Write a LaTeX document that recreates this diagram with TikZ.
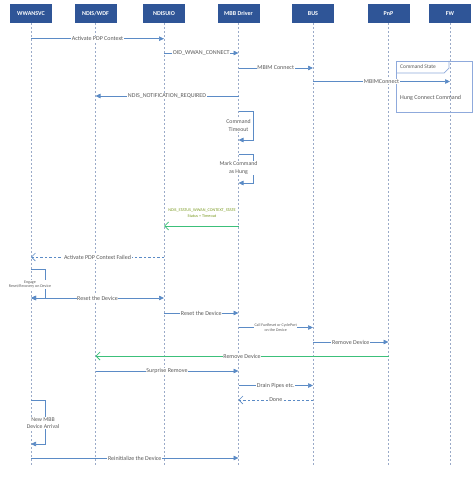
\documentclass[tikz,border=0pt]{standalone}
\usepackage{fontspec}
\setmainfont{Carlito}
\usetikzlibrary{arrows.meta}
\definecolor{hdr}{HTML}{2F5597}
\definecolor{msg}{HTML}{5B8BC6}
\definecolor{life}{HTML}{9AAAC8}
\definecolor{grn}{HTML}{3CC07A}
\definecolor{grntext}{HTML}{7A9A20}
\definecolor{lbl}{HTML}{595959}
\definecolor{frame}{HTML}{8FAADC}
\tikzset{
 hdrbox/.style={fill=hdr, draw=none, minimum width=42pt, minimum height=19pt, inner sep=0pt, text=white, font=\fontsize{6}{7}\selectfont\bfseries},
 lifeline/.style={draw=life, line width=0.5pt, dash pattern=on 2pt off 2pt},
 msgline/.style={draw=msg, line width=0.7pt, -{Triangle[length=5pt,width=4.5pt]}},
 dblline/.style={draw=msg, line width=0.7pt, {Triangle[length=5pt,width=4.5pt]}-{Triangle[length=5pt,width=4.5pt]}},
 retline/.style={draw=msg, line width=0.6pt, dash pattern=on 2.5pt off 2pt, -{Straight Barb[length=4pt,width=8pt]}},
 grnline/.style={draw=grn, line width=0.8pt, -{Straight Barb[length=4pt,width=8pt]}},
 lab/.style={fill=white, inner sep=0.6pt, text=lbl, font=\fontsize{6}{7}\selectfont},
 tinylab/.style={fill=white, inner sep=0.5pt, text=lbl, align=center, font=\fontsize{4}{4.8}\selectfont},
 selflab/.style={fill=white, inner sep=0.5pt, text=lbl, align=center, font=\fontsize{5.8}{7.2}\selectfont},
}
\begin{document}
\begin{tikzpicture}[x=1pt,y=-1pt]
\useasboundingbox[fill=white] (0,0) rectangle (474,484);

% headers
\node[hdrbox] (hW) at (31,13.5) {WWANSVC};
\node[hdrbox] (hN) at (95.5,13.5) {NDIS/WDF};
\node[hdrbox] (hU) at (164,13.5) {NDISUIO};
\node[hdrbox] (hM) at (238.5,13.5) {MBB Driver};
\node[hdrbox] (hB) at (313,13.5) {BUS};
\node[hdrbox] (hP) at (388.5,13.5) {PnP};
\node[hdrbox] (hF) at (450,13.5) {FW};

% lifelines
\foreach \n in {W,N,U,M,B,P,F} {
  \coordinate (e\n) at (h\n |- 0,465);
  \draw[lifeline] (h\n.south) -- (e\n);
}

% command state frame
\draw[frame, line width=0.7pt] (396,61) rectangle (472,112);
\draw[frame, line width=0.7pt] (396,73) -- (444,73) -- (449,68) -- (449,61);
\node[anchor=west, text=lbl, font=\fontsize{5.5}{6}\selectfont, inner sep=0pt] (cs) at (400,67) {Command State};
\node[anchor=west, text=lbl, font=\fontsize{6}{7}\selectfont, inner sep=0pt] (hc) at (400,98) {Hung Connect Command};

% messages
\draw[msgline] (hW |- 0,38.7) -- node[lab]{Activate PDP Context} (hU |- 0,38.7);
\draw[msgline] (hU |- 0,53) -- node[lab]{OID\_WWAN\_CONNECT} (hM |- 0,53);
\draw[msgline] (hM |- 0,68) -- node[lab]{MBIM Connect} (hB |- 0,68);
\draw[msgline] (hB |- 0,81.5) -- node[lab]{MBIMConnect} (hF |- 0,81.5);
\draw[msgline] (hM |- 0,96) -- node[lab]{NDIS\_NOTIFICATION\_REQUIRED} (hN |- 0,96);

% self loops on MBB
\draw[msgline] (hM |- 0,111) -- (253,111) -- (253,140) -- (hM |- 0,140);
\node[selflab] (ct) at (238.5,125.5) {Command\\Timeout};
\draw[msgline] (hM |- 0,154) -- (253,154) -- (253,183) -- (hM |- 0,183);
\node[selflab] (mh) at (238.5,168) {Mark Command\\as Hung};

% green status
\draw[grnline] (hM |- 0,226) -- (hU |- 0,226);
\node[align=center, text=grntext, font=\fontsize{4.2}{6}\selectfont, inner sep=0pt] (gs) at (202,213) {NDIS\_STATUS\_WWAN\_CONTEXT\_STATE\\Status = Timeout};

\draw[retline] (hU |- 0,257) -- node[lab]{Activate PDP Context Failed} (hW |- 0,257);

% engage loop
\draw[msgline] (hW |- 0,269) -- (45,269) -- (45,298) -- (hW |- 0,298);
\node[tinylab] (eg) at (30,284.5) {Engage\\Reset/Recovery on Device};
\draw[dblline] (hW |- 0,298) -- node[lab]{Reset the Device} (hU |- 0,298);

\draw[msgline] (hU |- 0,313) -- node[lab]{Reset the Device} (hM |- 0,313);
\draw[msgline] (hM |- 0,327.5) -- node[tinylab]{Call FunReset or CyclePort\\on the Device} (hB |- 0,327.5);
\draw[msgline] (hB |- 0,342) -- node[lab]{Remove Device} (hP |- 0,342);
\draw[grnline] (hP |- 0,356) -- node[lab]{Remove Device} (hN |- 0,356);
\draw[msgline] (hN |- 0,371) -- node[lab]{Surprise Remove} (hM |- 0,371);
\draw[msgline] (hM |- 0,385.5) -- node[lab]{Drain Pipes etc.} (hB |- 0,385.5);
\draw[retline] (hB |- 0,400) -- node[lab]{Done} (hM |- 0,400);

% new device loop
\draw[msgline] (hW |- 0,400) -- (45,400) -- (45,444) -- (hW |- 0,444);
\node[selflab] (nd) at (43,423) {New MBB\\Device Arrival};

\draw[msgline] (hW |- 0,458) -- node[lab]{Reinitialize the Device} (hM |- 0,458);
\end{tikzpicture}
\end{document}
